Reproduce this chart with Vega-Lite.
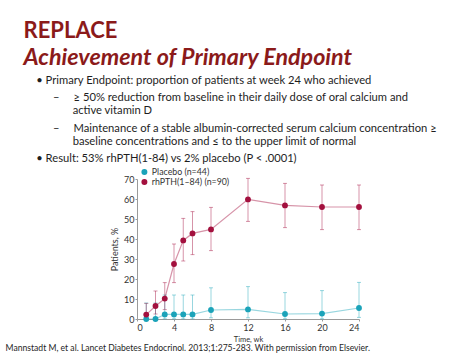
{
  "$schema": "https://vega.github.io/schema/vega-lite/v6.json",
  "padding": {"left": 5, "top": 20, "right": 5, "bottom": 5},
  "background": "white",
  "config": {
    "view": {"stroke": null},
    "font": "Lato",
    "axis": {"labelFont": "Lato", "titleFont": "Lato", "grid": false, "domainColor": "#9a9a9a", "tickColor": "#9a9a9a", "labelColor": "#333333", "titleColor": "#333333", "titleFontWeight": "normal"}
  },
  "title": {
    "text": "REPLACE",
    "subtitle": "Achievement of Primary Endpoint",
    "anchor": "start",
    "frame": "bounds",
    "font": "Lato",
    "fontSize": 22,
    "fontWeight": "bold",
    "color": "#8b1a1a",
    "subtitleFont": "Lato",
    "subtitleFontSize": 23.3,
    "subtitleFontStyle": "italic",
    "subtitleFontWeight": "bold",
    "subtitleColor": "#8b1a1a",
    "subtitlePadding": 4,
    "offset": 5,
    "dx": 18
  },
  "vconcat": [
    {
      "title": {
        "text": "•\u00a0Primary Endpoint: proportion of patients at week 24 who achieved",
        "subtitle": [
          "\u200b\u2002\u2002\u2002–\u2002\u2002\u00a0≥ 50% reduction from baseline in their daily dose of oral calcium and",
          "\u200b\u2002\u2002\u2002\u2002\u2002\u2002\u00a0active vitamin D"
        ],
        "anchor": "start",
        "frame": "bounds",
        "font": "Lato",
        "fontSize": 11.2,
        "fontWeight": "normal",
        "color": "#1e1e1e",
        "subtitleFont": "Lato",
        "subtitleFontSize": 11.2,
        "subtitleColor": "#1e1e1e",
        "subtitleLineHeight": 13,
        "subtitlePadding": 5.8,
        "offset": 6.8,
        "dx": 30.7
      },
      "vconcat": [
        {
          "title": {
            "text": "Mannstadt M, et al. Lancet Diabetes Endocrinol. 2013;1:275-283. With permission from Elsevier.",
            "orient": "bottom",
            "anchor": "start",
            "frame": "bounds",
            "font": "Lato",
            "fontSize": 8.6,
            "fontWeight": "normal",
            "color": "#1e1e1e",
            "offset": 1,
            "dx": -30.7
          },
          "vconcat": [
            {
              "title": {
                "text": [
                  "\u200b\u2002\u2002\u2002–\u2002\u2002\u00a0Maintenance of a stable albumin-corrected serum calcium concentration ≥",
                  "\u200b\u2002\u2002\u2002\u2002\u2002\u2002\u00a0baseline concentrations and ≤ to the upper limit of normal"
                ],
                "subtitle": "•\u00a0Result: 53% rhPTH(1-84) vs 2% placebo (P < .0001)",
                "anchor": "start",
                "frame": "bounds",
                "font": "Lato",
                "fontSize": 11.2,
                "fontWeight": "normal",
                "color": "#1e1e1e",
                "lineHeight": 13,
                "subtitleFont": "Lato",
                "subtitleFontSize": 11.2,
                "subtitleColor": "#1e1e1e",
                "subtitlePadding": 5.8,
                "offset": 10.5,
                "dx": -74.3
              },
              "width": 222,
              "height": 140,
              "data": {
                "values": [
                  {"week": 1, "group": "Placebo (n=44)", "value": 0, "lo": 0, "hi": 8},
                  {"week": 2, "group": "Placebo (n=44)", "value": 0, "lo": 0, "hi": 8},
                  {"week": 3, "group": "Placebo (n=44)", "value": 2.3, "lo": 0.1, "hi": 12},
                  {"week": 4, "group": "Placebo (n=44)", "value": 2.3, "lo": 0.1, "hi": 12},
                  {"week": 5, "group": "Placebo (n=44)", "value": 2.3, "lo": 0.1, "hi": 12},
                  {"week": 6, "group": "Placebo (n=44)", "value": 2.3, "lo": 0.1, "hi": 12},
                  {"week": 8, "group": "Placebo (n=44)", "value": 4.5, "lo": 0.6, "hi": 15.6},
                  {"week": 12, "group": "Placebo (n=44)", "value": 4.8, "lo": 0.6, "hi": 16.2},
                  {"week": 16, "group": "Placebo (n=44)", "value": 2.5, "lo": 0.1, "hi": 13.2},
                  {"week": 20, "group": "Placebo (n=44)", "value": 2.7, "lo": 0.1, "hi": 14.2},
                  {"week": 24, "group": "Placebo (n=44)", "value": 5.5, "lo": 0.8, "hi": 18.3},
                  {"week": 1, "group": "rhPTH(1–84) (n=90)", "value": 2.2, "lo": 0.3, "hi": 7.8},
                  {"week": 2, "group": "rhPTH(1–84) (n=90)", "value": 6.5, "lo": 2.5, "hi": 14},
                  {"week": 3, "group": "rhPTH(1–84) (n=90)", "value": 10.2, "lo": 4.7, "hi": 18.2},
                  {"week": 4, "group": "rhPTH(1–84) (n=90)", "value": 27.5, "lo": 18.2, "hi": 37.5},
                  {"week": 5, "group": "rhPTH(1–84) (n=90)", "value": 39.3, "lo": 29, "hi": 50.3},
                  {"week": 6, "group": "rhPTH(1–84) (n=90)", "value": 42.8, "lo": 32.2, "hi": 53.7},
                  {"week": 8, "group": "rhPTH(1–84) (n=90)", "value": 44.8, "lo": 34.2, "hi": 55.8},
                  {"week": 12, "group": "rhPTH(1–84) (n=90)", "value": 59.8, "lo": 48.8, "hi": 70.3},
                  {"week": 16, "group": "rhPTH(1–84) (n=90)", "value": 56.8, "lo": 45.7, "hi": 67.8},
                  {"week": 20, "group": "rhPTH(1–84) (n=90)", "value": 56, "lo": 44.7, "hi": 67},
                  {"week": 24, "group": "rhPTH(1–84) (n=90)", "value": 56, "lo": 44.7, "hi": 67}
                ]
              },
              "encoding": {
                "x": {"field": "week", "type": "quantitative", "scale": {"domain": [0, 24], "nice": false},
                  "axis": {"values": [0, 4, 8, 12, 16, 20, 24], "title": "Time, wk", "titleFontSize": 7.5, "labelFontSize": 9, "tickSize": 2, "labelPadding": 2, "titlePadding": 3}},
                "color": {"field": "group", "type": "nominal",
                  "scale": {"domain": ["Placebo (n=44)", "rhPTH(1–84) (n=90)"], "range": ["#1ba3b9", "#a3103e"]},
                  "legend": {"title": null, "orient": "none", "legendX": 3, "legendY": -11.5, "labelFont": "Lato", "labelFontSize": 8.8, "labelColor": "#333333", "symbolType": "circle", "symbolSize": 20, "rowPadding": -9, "labelOffset": 3, "symbolOpacity": 1}}
              },
              "layer": [
                {
                  "mark": {"type": "errorbar", "ticks": {"size": 4}, "thickness": 1, "opacity": 0.45},
                  "encoding": {
                    "y": {"field": "lo", "type": "quantitative", "scale": {"domain": [0, 70], "nice": false},
                      "axis": {"values": [0, 10, 20, 30, 40, 50, 60, 70], "title": "Patients, %", "titleFontSize": 9, "labelFontSize": 9, "tickSize": 2, "labelPadding": 1, "titlePadding": 4, "labelOverlap": false}},
                    "y2": {"field": "hi"}
                  }
                },
                {
                  "mark": {"type": "line", "strokeWidth": 1.2, "opacity": 0.45},
                  "encoding": {"y": {"field": "value", "type": "quantitative", "scale": {"domain": [0, 70], "nice": false},
                      "axis": {"values": [0, 10, 20, 30, 40, 50, 60, 70], "title": "Patients, %", "titleFontSize": 9, "labelFontSize": 9, "tickSize": 2, "labelPadding": 1, "titlePadding": 4, "labelOverlap": false}}}
                },
                {
                  "mark": {"type": "point", "filled": true, "size": 34, "opacity": 1},
                  "encoding": {"y": {"field": "value", "type": "quantitative", "scale": {"domain": [0, 70], "nice": false},
                      "axis": {"values": [0, 10, 20, 30, 40, 50, 60, 70], "title": "Patients, %", "titleFontSize": 9, "labelFontSize": 9, "tickSize": 2, "labelPadding": 1, "titlePadding": 4, "labelOverlap": false}}}
                }
              ]
            }
          ]
        }
      ]
    }
  ]
}
